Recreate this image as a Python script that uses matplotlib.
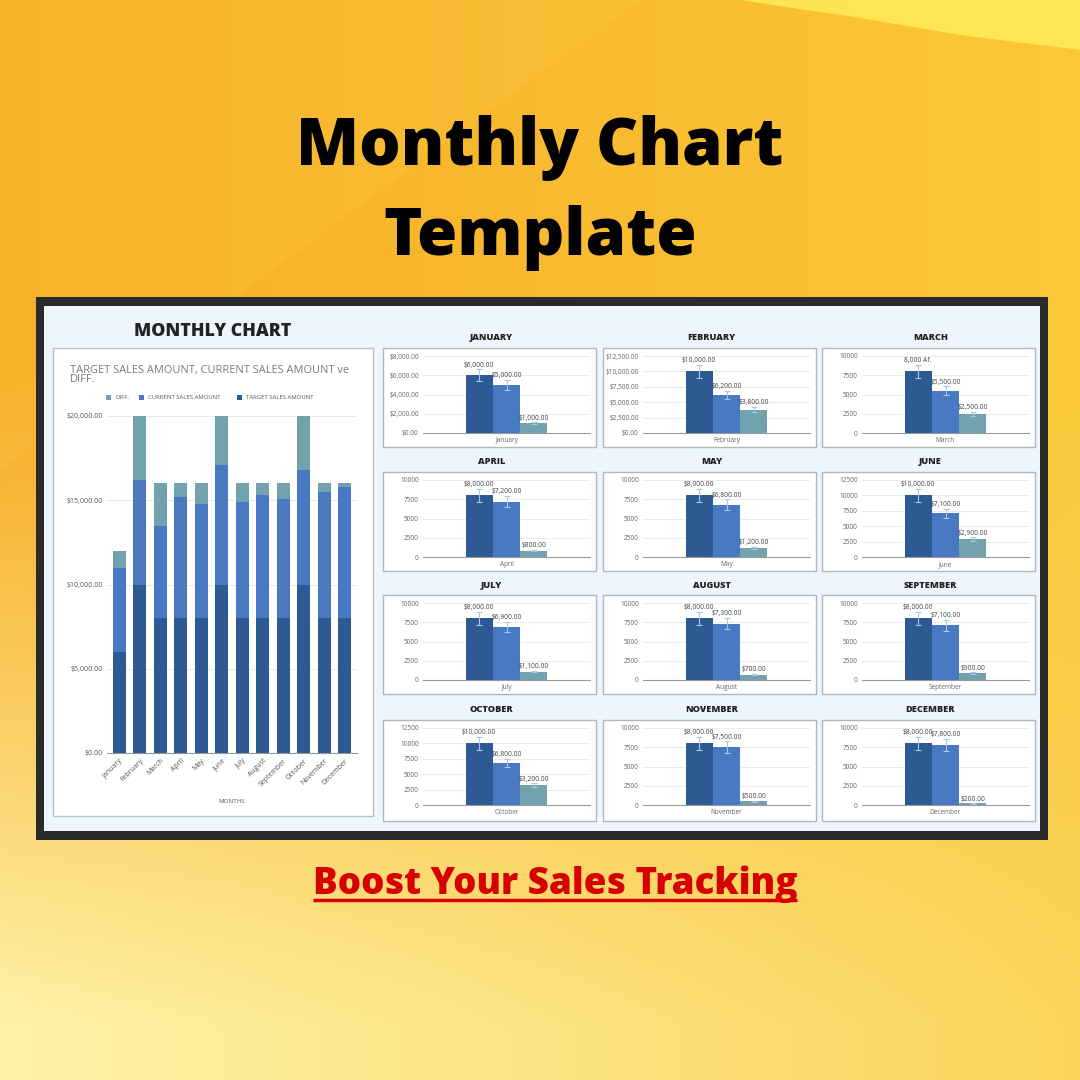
import matplotlib
matplotlib.use("Agg")
import matplotlib.pyplot as plt
from matplotlib.patches import Rectangle, Polygon
from matplotlib.ticker import FuncFormatter
import numpy as np

# Data read from the template
months = ["January", "February", "March", "April", "May", "June",
          "July", "August", "September", "October", "November", "December"]
target = [6000, 10000, 8000, 8000, 8000, 10000, 8000, 8000, 8000, 10000, 8000, 8000]
current = [5000, 6200, 5500, 7200, 6800, 7100, 6900, 7300, 7100, 6800, 7500, 7800]
diff = [1000, 3800, 2500, 800, 1200, 2900, 1100, 700, 900, 3200, 500, 200]

# y-axis top and tick style of each small chart
y_max = [8000, 12500, 10000, 10000, 10000, 12500, 10000, 10000, 10000, 12500, 10000, 10000]
y_step = [2000, 2500, 2500, 2500, 2500, 2500, 2500, 2500, 2500, 2500, 2500, 2500]
dollar_ticks = [True, True, False, False, False, False, False, False, False, False, False, False]

C_TARGET = "#2D5A93"
C_CURRENT = "#4A79C3"
C_DIFF = "#72A2AD"
C_ERR = "#A8C8EA"

plt.rcParams['font.family'] = ['Open Sans', 'DejaVu Sans']

W = 1080
fig = plt.figure(figsize=(10.8, 10.8), dpi=100)


def box(x0, y0, x1, y1):
    # pixel box (top-left origin) -> figure fraction
    return [x0 / W, 1 - y1 / W, (x1 - x0) / W, (y1 - y0) / W]


def money(v, pos=None):
    return "${:,.2f}".format(v)


# Background
bg = fig.add_axes([0, 0, 1, 1])
bg.set_xlim(0, W)
bg.set_ylim(W, 0)
bg.axis("off")

tl = np.array([247, 172, 36]) / 255
tr = np.array([251, 200, 58]) / 255
bl = np.array([254, 242, 168]) / 255
br = np.array([250, 212, 90]) / 255
gx, gy = np.meshgrid(np.linspace(0, 1, 540), np.linspace(0, 1, 540))
gy = np.clip((gy - 0.35) / 0.6, 0, 1) ** 1.1
grad = ((1 - gx)[..., None] * (1 - gy)[..., None] * tl + gx[..., None] * (1 - gy)[..., None] * tr
        + (1 - gx)[..., None] * gy[..., None] * bl + gx[..., None] * gy[..., None] * br)
bg.imshow(grad, extent=[0, W, W, 0], aspect="auto", interpolation="bilinear", zorder=0)
bg.add_patch(Polygon([[0, 0], [640, 0], [0, 470]], closed=True,
                     facecolor="#FFE060", alpha=0.12, linewidth=0, zorder=1))
bg.add_patch(Polygon([[740, 0], [1080, 0], [1080, 50], [960, 35], [860, 18]], closed=True,
                     facecolor="#FFE955", alpha=0.9, linewidth=0, zorder=1))

bg.text(540, 148, "Monthly Chart", ha="center", va="center", fontsize=47,
        fontweight="heavy", color="black", zorder=3)
bg.text(540, 238, "Template", ha="center", va="center", fontsize=47,
        fontweight="heavy", color="black", zorder=3)

# Dark frame and light panel
bg.add_patch(Rectangle((36, 297), 1012, 543, facecolor="#2A2A2A", zorder=2))
bg.add_patch(Rectangle((44, 306), 996, 525, facecolor="#EEF5FC", zorder=2))

# Left card
bg.add_patch(Rectangle((53, 348), 320, 468, facecolor="white", edgecolor="#B9C2CB",
                       linewidth=1, zorder=3))
bg.text(213, 331, "MONTHLY CHART", ha="center", va="center", fontsize=12.8,
        fontweight="heavy", color="#222222", zorder=4)
bg.text(70, 375, "TARGET SALES AMOUNT, CURRENT SALES AMOUNT ve\nDIFF.", ha="left",
        va="center", fontsize=7.9, color="#7A7A7A", linespacing=0.85, zorder=4)

leg_items = [("DIFF.", C_DIFF, 106), ("CURRENT SALES AMOUNT", C_CURRENT, 139),
             ("TARGET SALES AMOUNT", C_TARGET, 237)]
for label, col, lx in leg_items:
    bg.add_patch(Rectangle((lx, 395), 5, 5, facecolor=col, zorder=4))
    bg.text(lx + 9, 397.5, label, ha="left", va="center", fontsize=4.3,
            color="#555555", zorder=4)

# Big stacked chart (cumulative bars drawn from zero so no seams show)
ax = fig.add_axes(box(107, 416, 357, 753))
x = np.arange(len(months))
tgt = np.array(target)
cur = np.array(current)
dif = np.array(diff)
ax.bar(x, tgt + cur + dif, width=0.63, color=C_DIFF, zorder=3)
ax.bar(x, tgt + cur, width=0.63, color=C_CURRENT, zorder=4)
ax.bar(x, tgt, width=0.63, color=C_TARGET, zorder=5)
ax.set_ylim(0, 20000)
ax.set_xlim(-0.6, 11.6)
ax.set_yticks(np.arange(0, 20001, 5000))
ax.yaxis.set_major_formatter(FuncFormatter(money))
ax.set_xticks(x)
ax.set_xticklabels(months, rotation=45, ha="right", rotation_mode="anchor")
ax.tick_params(axis="both", length=0, labelsize=5, colors="#555555", pad=3)
ax.grid(axis="y", color="#E6E6E6", linewidth=0.6, zorder=0)
ax.set_axisbelow(True)
for s in ["top", "right", "left"]:
    ax.spines[s].set_visible(False)
ax.spines["bottom"].set_color("#999999")
ax.spines["bottom"].set_linewidth(0.8)
ax.spines["bottom"].set_zorder(6)
ax.set_facecolor("none")
ax.set_xlabel("MONTHS", fontsize=4.5, color="#555555", labelpad=8)

# Small monthly charts
col_x = [(383, 596), (603, 816), (822, 1035)]
row_y = [(348, 447), (472, 571), (595, 694), (720, 821)]

for i, m in enumerate(months):
    cx0, cx1 = col_x[i % 3]
    cy0, cy1 = row_y[i // 3]
    bg.add_patch(Rectangle((cx0, cy0), cx1 - cx0, cy1 - cy0, facecolor="white",
                           edgecolor="#AEB7C0", linewidth=1, zorder=3))
    bg.text((cx0 + cx1) / 2 + 2, cy0 - 10, m.upper(), ha="center", va="center",
            fontsize=6.6, fontweight="heavy", color="#222222", zorder=4)

    sax = fig.add_axes(box(cx0 + 40, cy0 + 8, cx1 - 6, cy0 + 85))
    vals = [target[i], current[i], diff[i]]
    errs = [v * 0.1 for v in vals]
    pos = [-1, 0, 1]
    sax.bar(pos, vals, width=0.98, color=[C_TARGET, C_CURRENT, C_DIFF], zorder=3)
    sax.errorbar(pos, vals, yerr=errs, fmt="none", ecolor=C_ERR, elinewidth=0.8,
                 capsize=2, capthick=0.8, zorder=4)
    labels = [money(v) for v in vals]
    if m == "March":
        labels[0] = "8,000 Af."
    for p, v, e, lab in zip(pos, vals, errs, labels):
        sax.text(p, v + e + y_max[i] * 0.01, lab, ha="center", va="bottom",
                 fontsize=4.8, color="#444444", zorder=5)
    sax.set_xlim(-3.05, 3.05)
    sax.set_ylim(0, y_max[i])
    sax.set_yticks(np.arange(0, y_max[i] + 1, y_step[i]))
    if dollar_ticks[i]:
        sax.yaxis.set_major_formatter(FuncFormatter(money))
    sax.set_xticks([0])
    sax.set_xticklabels([m])
    sax.tick_params(axis="both", length=0, labelsize=4.7, colors="#666666", pad=3)
    sax.grid(axis="y", color="#E8E8E8", linewidth=0.6, zorder=0)
    sax.set_axisbelow(True)
    for s in ["top", "right", "left"]:
        sax.spines[s].set_visible(False)
    sax.spines["bottom"].set_color("#9A9A9A")
    sax.spines["bottom"].set_linewidth(0.8)
    sax.set_facecolor("none")

# Bottom call to action with underline
cta = bg.text(555, 884, "Boost Your Sales Tracking", ha="center", va="center",
              fontsize=26.5, fontweight="heavy", color="#D60000", zorder=3)
fig.canvas.draw()
bb = cta.get_window_extent(renderer=fig.canvas.get_renderer())
inv = bg.transData.inverted()
(ux0, uy0), (ux1, uy1) = inv.transform([[bb.x0, bb.y0], [bb.x1, bb.y1]])
bg.plot([ux0, ux1], [900, 900], color="#D60000", linewidth=2.5, zorder=3,
        solid_capstyle="butt")

fig.savefig("out.png", dpi=100)
